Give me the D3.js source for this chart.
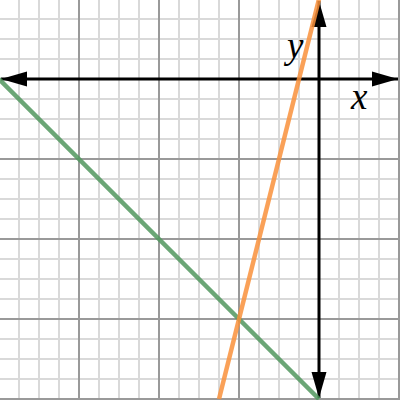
<!DOCTYPE html>
<html><head><meta charset="utf-8">
<script src="https://cdn.jsdelivr.net/npm/d3@7"></script>
<style>html,body{margin:0;padding:0;background:#fff;}svg{display:block;}</style>
</head><body>
<script>
// Data
const xDomain = [-16, 4];
const yDomain = [-16, 4];
const minorStep = 1;
const majorStep = 4;
const greenLine = [[-16, 0], [0, -16]];   // y = -x - 16
const orangeLine = [[-5, -16], [0, 4]];   // y = 4x + 4
const axisLabels = ["x", "y"];

const W = 400, H = 400;
const x = d3.scaleLinear().domain(xDomain).range([-1, 399]);
const y = d3.scaleLinear().domain(yDomain).range([399, -1]);

const svg = d3.select("body").append("svg").attr("width", W).attr("height", H);
svg.append("defs").append("clipPath").attr("id", "clip")
  .append("rect").attr("width", W).attr("height", H);

const ticks = d3.range(xDomain[0], xDomain[1] + 0.001, minorStep);
const yticks = d3.range(yDomain[0], yDomain[1] + 0.001, minorStep);
const isMajor = v => Math.abs(v % majorStep) < 1e-9;

const g = svg.append("g");
// minor grid
g.selectAll(".vminor").data(ticks.filter(v => !isMajor(v))).join("line")
  .attr("x1", d => x(d)).attr("x2", d => x(d)).attr("y1", 0).attr("y2", H)
  .attr("stroke", "#d9d9d9").attr("stroke-width", 2);
g.selectAll(".hminor").data(yticks.filter(v => !isMajor(v))).join("line")
  .attr("y1", d => y(d)).attr("y2", d => y(d)).attr("x1", 0).attr("x2", W)
  .attr("stroke", "#d9d9d9").attr("stroke-width", 2);
// major grid
g.selectAll(".vmajor").data(ticks.filter(v => isMajor(v) && v !== 0)).join("line")
  .attr("x1", d => x(d)).attr("x2", d => x(d)).attr("y1", 0).attr("y2", H)
  .attr("stroke", "#999").attr("stroke-width", 2);
g.selectAll(".hmajor").data(yticks.filter(v => isMajor(v) && v !== 0)).join("line")
  .attr("y1", d => y(d)).attr("y2", d => y(d)).attr("x1", 0).attr("x2", W)
  .attr("stroke", "#999").attr("stroke-width", 2);

// axes
const x0 = x(0), y0 = y(0);
const aL = 26, aW = 7.5;
const ax = svg.append("g");
ax.append("line").attr("x1", 1).attr("x2", 398).attr("y1", y0).attr("y2", y0)
  .attr("stroke", "#000").attr("stroke-width", 3);
ax.append("line").attr("y1", 1).attr("y2", 398).attr("x1", x0).attr("x2", x0)
  .attr("stroke", "#000").attr("stroke-width", 3);
// arrowheads
const arrows = [
  [[398, y0], [398 - aL, y0 - aW], [398 - aL, y0 + aW]],
  [[1, y0], [1 + aL, y0 - aW], [1 + aL, y0 + aW]],
  [[x0, 1], [x0 - aW, 1 + aL], [x0 + aW, 1 + aL]],
  [[x0, 398], [x0 - aW, 398 - aL], [x0 + aW, 398 - aL]]
];
ax.selectAll("path").data(arrows).join("path")
  .attr("d", d => "M" + d.map(p => p.join(",")).join("L") + "Z")
  .attr("fill", "#000");

// lines
const lineGen = d3.line().x(d => x(d[0])).y(d => y(d[1]));
const lg = svg.append("g").attr("clip-path", "url(#clip)");
lg.append("path").datum(greenLine).attr("d", lineGen)
  .attr("fill", "none").attr("stroke", "#51965e").attr("stroke-opacity", 0.85)
  .attr("stroke-width", 4.5);
lg.append("path").datum(orangeLine).attr("d", lineGen)
  .attr("fill", "none").attr("stroke", "#f9913b").attr("stroke-opacity", 0.85)
  .attr("stroke-width", 4.5);

// labels
svg.append("text").attr("x", 351).attr("y", 109).text(axisLabels[0])
  .attr("font-family", "'Liberation Serif','Times New Roman',serif")
  .attr("font-style", "italic").attr("font-size", 37).attr("fill", "#000");
svg.append("text").attr("x", 287).attr("y", 58).text(axisLabels[1])
  .attr("font-family", "'Liberation Serif','Times New Roman',serif")
  .attr("font-style", "italic").attr("font-size", 37).attr("fill", "#000");
</script>
</body></html>
